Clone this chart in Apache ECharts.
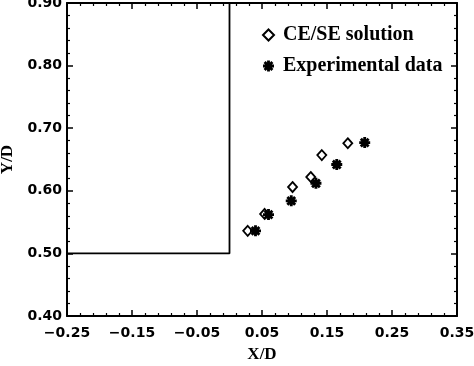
<!DOCTYPE html>
<html>
<head>
<meta charset="utf-8">
<script src="https://cdn.jsdelivr.net/npm/echarts@6/dist/echarts.min.js"></script>
<style>
html,body{margin:0;padding:0;background:#fff;}
#c{width:474px;height:366px;}
</style>
</head>
<body>
<div id="c"></div>
<script>
// ---- data ----
const xTicks = [-0.25, -0.15, -0.05, 0.05, 0.15, 0.25, 0.35];
const yTicks = [0.40, 0.50, 0.60, 0.70, 0.80, 0.90];
const ceseName = 'CE/SE solution';
const expName = 'Experimental data';
const ceseX = [0.028, 0.054, 0.097, 0.125, 0.142, 0.182];
const ceseY = [0.536, 0.563, 0.606, 0.622, 0.657, 0.676];
const expX = [0.040, 0.060, 0.095, 0.133, 0.165, 0.208];
const expY = [0.536, 0.562, 0.584, 0.612, 0.642, 0.677];
const stepX = [-0.25, 0.0, 0.0];
const stepY = [0.50, 0.50, 0.90];

// ---- asterisk symbol path ----
function asteriskPath() {
  const L = 5, w = 1.3;
  let d = '';
  for (let k = 0; k < 4; k++) {
    const a = k * Math.PI / 4;
    const c = Math.cos(a), s = Math.sin(a);
    const pts = [[-L, -w], [L, -w], [L, w], [-L, w]].map(([x, y]) => [x * c - y * s, x * s + y * c]);
    d += 'M' + pts.map(p => p[0].toFixed(3) + ',' + p[1].toFixed(3)).join('L') + 'Z';
  }
  return 'path://' + d;
}
const star = asteriskPath();

const zip = (a, b) => a.map((v, i) => [v, b[i]]);
const fmt = v => { const s = Math.abs(v).toFixed(2); return (v < -1e-9 ? '\u2212' : '') + s; };

const axisCommon = {
  axisLine: { show: true, onZero: false, lineStyle: { color: '#000', width: 2 } },
  axisTick: { show: true, inside: true, length: 6, lineStyle: { color: '#000', width: 1.5 } },
  minorTick: { show: true, splitNumber: 5, length: 3, lineStyle: { color: '#000', width: 1.2 } },
  splitLine: { show: false },
  minorSplitLine: { show: false }
};
const labelStyle = { color: '#000', fontFamily: 'DejaVu Sans', fontWeight: 'bold', fontSize: 14 };

const chart = echarts.init(document.getElementById('c'), null, { renderer: 'canvas' });
chart.setOption({
  animation: false,
  backgroundColor: '#fff',
  grid: { left: 67, right: 17, top: 3, bottom: 50, containLabel: false, outerBoundsMode: 'none' },
  xAxis: [
    Object.assign({
      type: 'value', position: 'bottom', min: xTicks[0], max: xTicks[xTicks.length - 1], interval: 0.1,
      name: 'X/D', nameLocation: 'middle', nameGap: 30,
      nameTextStyle: { color: '#000', fontFamily: 'Liberation Serif', fontWeight: 'bold', fontSize: 17 },
      axisLabel: Object.assign({ margin: 10, formatter: fmt, hideOverlap: false }, labelStyle)
    }, axisCommon),
    Object.assign({
      type: 'value', position: 'top', min: xTicks[0], max: xTicks[xTicks.length - 1], interval: 0.1,
      axisLabel: { show: false }
    }, axisCommon)
  ],
  yAxis: [
    Object.assign({
      type: 'value', position: 'left', min: yTicks[0], max: yTicks[yTicks.length - 1], interval: 0.1,
      name: 'Y/D', nameLocation: 'middle', nameGap: 50, nameRotate: 90,
      nameTextStyle: { color: '#000', fontFamily: 'Liberation Serif', fontWeight: 'bold', fontSize: 17 },
      axisLabel: Object.assign({ margin: 5, formatter: fmt }, labelStyle)
    }, axisCommon),
    Object.assign({
      type: 'value', position: 'right', min: yTicks[0], max: yTicks[yTicks.length - 1], interval: 0.1,
      axisLabel: { show: false }
    }, axisCommon)
  ],
  legend: {
    data: [
      { name: ceseName, icon: 'diamond' },
      { name: expName, icon: star }
    ],
    orient: 'vertical', left: 257, top: 20, itemGap: 11,
    itemWidth: 11, itemHeight: 11,
    textStyle: { color: '#000', fontFamily: 'Liberation Serif', fontWeight: 'bold', fontSize: 20, padding: [0, 0, 0, 4] }
  },
  series: [
    {
      type: 'line', name: 'step', data: zip(stepX, stepY), symbol: 'none',
      lineStyle: { color: '#000', width: 1.8 }, silent: true, z: 2
    },
    {
      type: 'scatter', name: ceseName, data: zip(ceseX, ceseY), symbol: 'diamond', symbolSize: [9, 10],
      itemStyle: { color: '#fff', borderColor: '#000', borderWidth: 1.8, opacity: 1 }, z: 3
    },
    {
      type: 'scatter', name: expName, data: zip(expX, expY), symbol: star, symbolSize: 11,
      itemStyle: { color: '#000', borderWidth: 0, opacity: 1 }, z: 4
    }
  ]
});
</script>
</body>
</html>
